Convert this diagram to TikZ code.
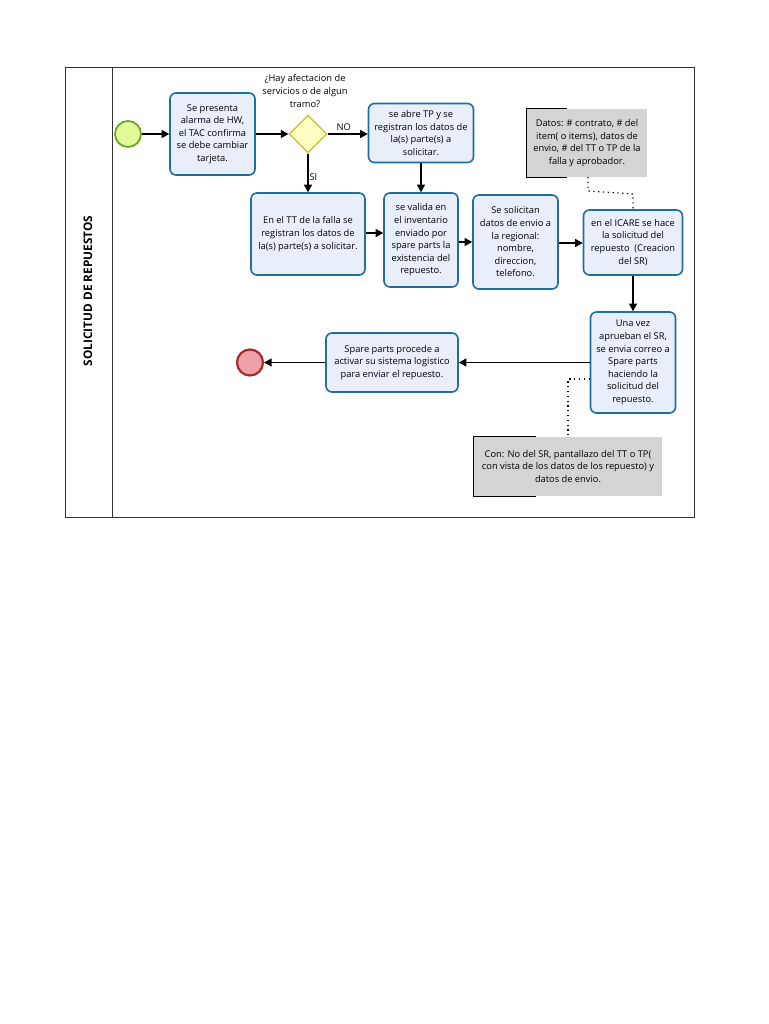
\documentclass[tikz,border=0pt]{standalone}
\usepackage{fontspec}
\setmainfont{Open Sans}
\usetikzlibrary{arrows.meta,shapes.geometric,calc}
\definecolor{taskfill}{HTML}{E8EFFB}
\definecolor{taskdraw}{HTML}{1F6E9C}
\definecolor{startfill}{HTML}{E4FA9A}
\definecolor{startdraw}{HTML}{62A716}
\definecolor{endfill}{HTML}{EEA2A8}
\definecolor{enddraw}{HTML}{A52A2A}
\definecolor{gwfill}{HTML}{FFFFC4}
\definecolor{gwdraw}{HTML}{C4C448}
\definecolor{notefill}{HTML}{D4D4D4}
\tikzset{
  task/.style={draw=taskdraw, fill=taskfill, line width=1.6pt, rounded corners=6pt,
    align=center, inner sep=0pt, font=\fontsize{9.3}{12.6}\selectfont},
  note/.style={fill=notefill, align=center, inner sep=0pt, font=\fontsize{9.3}{12.6}\selectfont},
  lbl/.style={align=center, inner sep=0pt, font=\fontsize{9.3}{12.6}\selectfont},
  arr/.style={-{Triangle[length=7.5pt,width=8pt]}, line width=1.1pt, black},
  assoc/.style={line width=1.2pt, dash pattern=on 1.2pt off 3.6pt, black},
  frame/.style={draw=black!80, line width=0.8pt}
}
\begin{document}
\begin{tikzpicture}[x=1pt,y=-1pt]
\useasboundingbox (0,0) rectangle (768,1024);
\fill[white] (0,0) rectangle (768,1024);
% pool frame
\draw[frame] (65,67) rectangle (694,517);
\draw[frame] (112,67) -- (112,517);
\node[rotate=90, font=\bfseries\fontsize{11.8}{13}\selectfont, inner sep=0pt] (lane) at (88,291) {SOLICITUD DE REPUESTOS};

% events and gateway
\node[circle, draw=startdraw, fill=startfill, line width=1.7pt, minimum size=26pt, inner sep=0pt] (start) at (128,134) {};
\node[circle, draw=enddraw, fill=endfill, line width=2.2pt, minimum size=26pt, inner sep=0pt] (end) at (250,362.5) {};
\node[diamond, draw=gwdraw, fill=gwfill, line width=1.4pt, minimum width=38pt, minimum height=38pt, inner sep=0pt] (gw) at (308,134) {};
\node[lbl] (q) at (305,91) {¿Hay afectacion de\\servicios o de algun\\tramo?};

% tasks
\node[task, minimum width=85pt, minimum height=82pt] (t1) at (212.5,134) {Se presenta\\alarma de HW,\\el TAC confirma\\se debe cambiar\\tarjeta.};
\node[task, minimum width=105pt, minimum height=59pt] (t2) at (421,133) {se abre TP y se\\registran los datos de\\la(s) parte(s) a\\solicitar.};
\node[task, minimum width=114pt, minimum height=82pt] (t3) at (308,234) {En el TT de la falla se\\registran los datos de\\la(s) parte(s) a solicitar.};
\node[task, minimum width=74pt, minimum height=94pt] (t4) at (421,240) {se valida en\\el inventario\\enviado por\\spare parts la\\existencia del\\repuesto.};
\node[task, minimum width=85pt, minimum height=94pt] (t5) at (515.5,242) {Se solicitan\\datos de envio a\\la regional:\\nombre,\\direccion,\\telefono.};
\node[task, minimum width=99pt, minimum height=65pt] (t6) at (633,242.5) {en el ICARE se hace\\la solicitud del\\repuesto\ \ (Creacion\\del SR)};
\node[task, minimum width=85pt, minimum height=101pt] (t7) at (633,362.5) {Una vez\\aprueban el SR,\\se envia correo a\\Spare parts\\haciendo la\\solicitud del\\repuesto.};
\node[task, minimum width=132pt, minimum height=59pt] (t8) at (392,362.5) {Spare parts procede a\\activar su sistema logistico\\para enviar el repuesto.};

% annotations
\node[note, minimum width=120pt, minimum height=68pt] (n1) at (587,143) {Datos: \# contrato, \# del\\item( o items), datos de\\envio, \# del TT o TP de la\\falla y aprobador.};
\draw[line width=1.1pt] ([xshift=40pt]n1.north west) -- (n1.north west) -- (n1.south west) -- ([xshift=40pt]n1.south west);
\node[note, minimum width=188pt, minimum height=59pt] (n2) at (568,466.5) {Con: No del SR, pantallazo del TT o TP(\\con vista de los datos de los repuesto) y\\datos de envio.};
\draw[line width=1.1pt] ([xshift=62pt]n2.north west) -- (n2.north west) -- (n2.south west) -- ([xshift=62pt]n2.south west);

% sequence flows
\draw[arr] (start) -- (t1);
\draw[arr] (t1) -- (gw);
\draw[arr] (gw.east) -- (gw.east -| t2.west) node[lbl, pos=0.4, above=3pt] (no) {NO};
\draw[arr] (gw.south) -- (t3.north) node[lbl, pos=0.6, right=1pt] (si) {SI};
\draw[arr] ([yshift=1pt]t3.east) -- ([yshift=1pt]t3.east -| t4.west);
\draw[arr] (t2.south) -- (t4.north);
\draw[arr] ([yshift=-2pt]t4.east) -- ([yshift=-2pt]t4.east -| t5.west);
\draw[arr] ([yshift=-1pt]t5.east) -- ([yshift=-1pt]t5.east -| t6.west);
\draw[arr] (t6.south) -- (t7.north);
\draw[arr] (t7.west) -- (t8.east);
\draw[arr] (t8.west) -- (end.east);

% associations
\coordinate (c1) at (588,191);
\coordinate (c2) at (633,194);
\draw[assoc] (n1.south -| c1) -- (c1) -- (c2) -- (t6.north);
\draw[assoc] ([yshift=-16.5pt]t7.west) -| (n2.north);
\end{tikzpicture}
\end{document}
